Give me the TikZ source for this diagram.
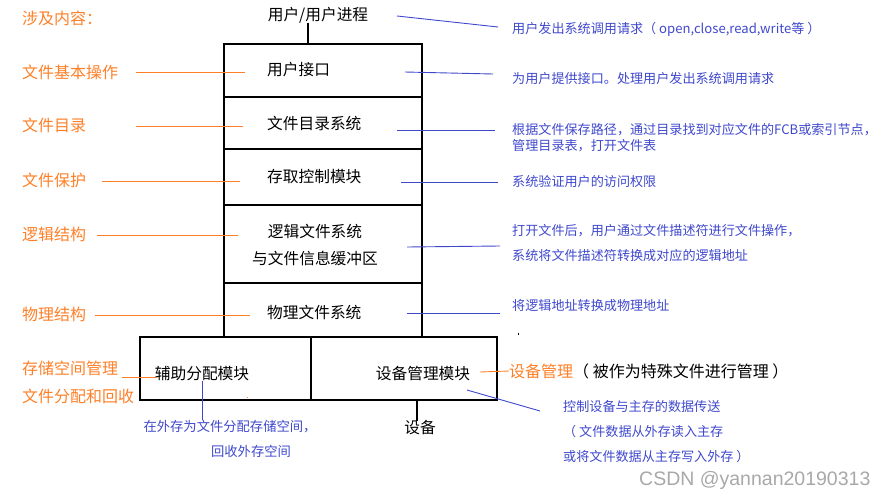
\documentclass[tikz,border=0pt]{standalone}
\usepackage{fontspec}
\setmainfont{Noto Sans CJK SC}
\newfontfamily\wmfont{Liberation Sans}
\definecolor{org}{HTML}{FF7F27}
\definecolor{blu}{HTML}{3F48CC}
\definecolor{wmgray}{HTML}{A8A8A8}
\begin{document}
\begin{tikzpicture}[x=1pt,y=-1pt,
  rowbox/.style={draw,line width=1.2pt,minimum width=198pt,inner sep=0pt},
  cellbox/.style={draw,line width=1.2pt,inner sep=0pt},
  blk/.style={font=\fontsize{15.7}{18}\selectfont,inner sep=0pt,text=black},
  olab/.style={font=\fontsize{16}{18}\selectfont,inner sep=0pt,text=org,anchor=west},
  btxt/.style={font=\fontsize{13.1}{16}\selectfont,inner sep=0pt,text=blu,anchor=west},
  bsmall/.style={font=\fontsize{13.3}{16}\selectfont,inner sep=0pt,text=blu},
  oline/.style={draw=org,line width=0.9pt},
  bline/.style={draw=blu,line width=0.9pt},
  kline/.style={draw=black,line width=1.2pt}]
\useasboundingbox (0,0) rectangle (885,500);

% main stack
\node[rowbox,minimum height=53pt] (r1) at (323,70.5) {};
\node[rowbox,minimum height=52pt] (r2) at (323,123) {};
\node[rowbox,minimum height=56pt] (r3) at (323,177) {};
\node[rowbox,minimum height=78pt] (r4) at (323,244) {};
\node[rowbox,minimum height=54pt] (r5) at (323,310) {};
\node[cellbox,minimum width=171pt,minimum height=63pt] (c1) at (225.5,368.5) {};
\node[cellbox,minimum width=186pt,minimum height=63pt] (c2) at (404,368.5) {};

% black texts
\node[blk] (proc) at (318,15) {用户/用户进程};
\node[blk,anchor=west] (t1) at (267,70) {用户接口};
\node[blk,anchor=west] (t2) at (267,123) {文件目录系统};
\node[blk,anchor=west] (t3) at (267,177) {存取控制模块};
\node[blk] (t4a) at (315,231) {逻辑文件系统};
\node[blk] (t4b) at (315,258) {与文件信息缓冲区};
\node[blk,anchor=west] (t5) at (267,312) {物理文件系统};
\node[blk] (fz) at (202,374) {辅助分配模块};
\node[blk] (sb) at (423,374) {设备管理模块};
\node[blk] (dev) at (420,428) {设备};

\coordinate (px) at (308,0);
\draw[kline] (proc.south -| px) -- (r1.north -| px);
\coordinate (dx) at (417,0);
\draw[kline] (c2.south -| dx) -- (dev.north -| dx);

% orange labels
\node[olab] (l0) at (22,18) {涉及内容：};
\node[olab] (l1) at (22,72) {文件基本操作};
\node[olab] (l2) at (22,125) {文件目录};
\node[olab] (l3) at (22,180) {文件保护};
\node[olab] (l4) at (22,234) {逻辑结构};
\node[olab] (l5) at (22,314) {物理结构};
\node[olab] (l6) at (22,368) {存储空间管理};
\node[olab] (l7) at (22,396) {文件分配和回收};
\node[olab] (l8) at (509,371) {设备管理\textcolor{black}{（ 被作为特殊文件进行管理 ）}};

\coordinate (o1a) at (136,72); \coordinate (o1b) at (245,72);
\coordinate (o2a) at (136,126); \coordinate (o2b) at (243,126);
\coordinate (o3a) at (102,181); \coordinate (o3b) at (240,181);
\coordinate (o4a) at (97,235); \coordinate (o4b) at (238,235);
\coordinate (o5a) at (95,315); \coordinate (o5b) at (250,315);
\coordinate (o6a) at (122,377); \coordinate (o6b) at (157,377);
\coordinate (o8a) at (480,372);
\draw[oline] (o1a) -- (o1b);
\draw[oline] (o2a) -- (o2b);
\draw[oline] (o3a) -- (o3b);
\draw[oline] (o4a) -- (o4b);
\draw[oline] (o5a) -- (o5b);
\draw[oline] (o6a) -- (o6b);
\draw[oline] (o8a) -- (l8.west);
\fill[org] (246.5,396.5) rectangle (248,397.5);
\fill[black] (517.5,333) rectangle (519,335);

% blue descriptions
\node[btxt] (d0) at (512,29) {用户发出系统调用请求（ open,close,read,write等 ）};
\node[btxt] (d1) at (512,79) {为用户提供接口。处理用户发出系统调用请求};
\node[btxt] (d2a) at (512,130) {根据文件保存路径，通过目录找到对应文件的FCB或索引节点，};
\node[btxt] (d2b) at (512,146) {管理目录表，打开文件表};
\node[btxt] (d3) at (512,182) {系统验证用户的访问权限};
\node[btxt] (d4a) at (512,231) {打开文件后，用户通过文件描述符进行文件操作，};
\node[btxt] (d4b) at (512,256) {系统将文件描述符转换成对应的逻辑地址};
\node[btxt] (d5) at (512,306) {将逻辑地址转换成物理地址};
\node[bsmall] (a1) at (230,427) {在外存为文件分配存储空间，};
\node[bsmall] (a2) at (251,451) {回收外存空间};
\node[btxt] (e1) at (563,407) {控制设备与主存的数据传送};
\node[btxt] (e2) at (563,432) {（ 文件数据从外存读入主存};
\node[btxt] (e3) at (563,457) {或将文件数据从主存写入外存 ）};

\coordinate (b0a) at (397,16); \coordinate (b0b) at (498,27);
\coordinate (b1a) at (405,72); \coordinate (b1b) at (493,74);
\coordinate (b2a) at (397,130); \coordinate (b2b) at (495,130);
\coordinate (b3a) at (401,182); \coordinate (b3b) at (498,182);
\coordinate (b4a) at (407,247); \coordinate (b4b) at (500,246);
\coordinate (b5a) at (407,313); \coordinate (b5b) at (500,313);
\coordinate (b6a) at (467,390); \coordinate (b6b) at (540,411);
\draw[bline] (b0a) -- (b0b);
\draw[bline] (b1a) -- (b1b);
\draw[bline] (b2a) -- (b2b);
\draw[bline] (b3a) -- (b3b);
\draw[bline] (b4a) -- (b4b);
\draw[bline] (b5a) -- (b5b);
\draw[bline] (b6a) -- (b6b);
\draw[bline] (fz.south) -- (fz.south |- a1.north);

% watermark
\node[font=\wmfont\fontsize{19.5}{22}\selectfont,text=wmgray,inner sep=0pt,anchor=west] (wm) at (639,480) {CSDN @yannan20190313};
\end{tikzpicture}
\end{document}
